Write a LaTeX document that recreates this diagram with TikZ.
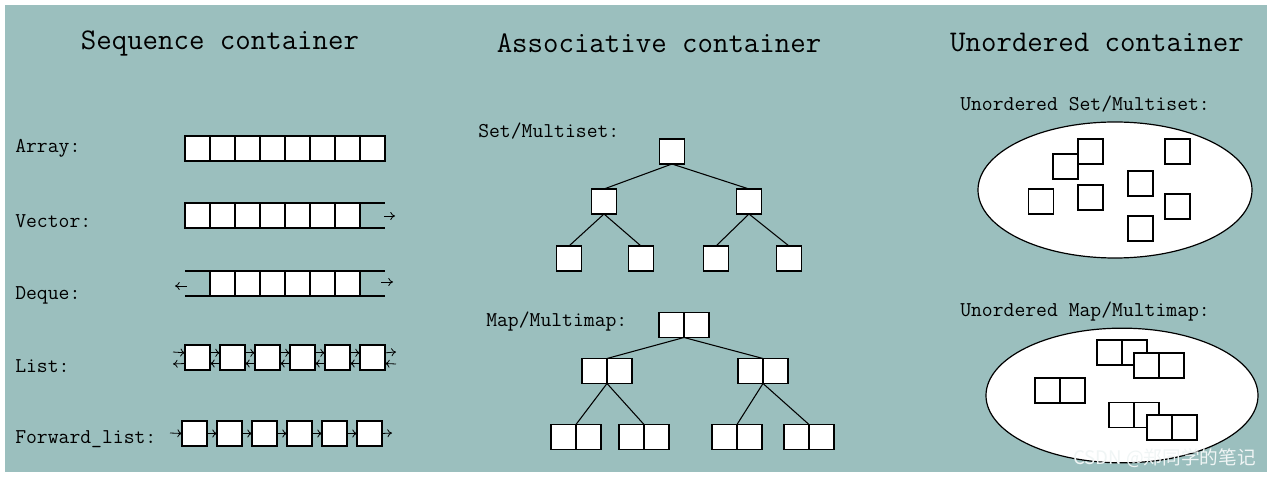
\documentclass[tikz,border=0pt]{standalone}
\usepackage{fontspec}
\newfontfamily\cjk{Noto Sans CJK SC}
\usetikzlibrary{arrows.meta,shapes.geometric}
\definecolor{bg}{HTML}{9BBFBE}
\begin{document}
\begin{tikzpicture}[x=0.75pt,y=-0.75pt,
  box/.style={draw,fill=white,line width=0.9pt,minimum size=18.75pt,inner sep=0pt,outer sep=0pt},
  ttl/.style={font=\ttfamily\fontsize{22.5}{24}\selectfont,anchor=center},
  lbl/.style={font=\ttfamily\fontsize{15.8}{17}\selectfont,anchor=west,inner sep=0pt},
  ln/.style={line width=0.9pt},
  ar/.style={line width=0.6pt,-{To[length=3.5pt,width=6pt]}},
  edge/.style={line width=0.8pt},
  ell/.style={draw,fill=white,line width=0.9pt,ellipse,inner sep=0pt}]
\useasboundingbox (0,0) rectangle (1272,477);
\fill[bg] (5,5) rectangle (1267,472);
% titles
\node[ttl] (t1) at (220,43) {Sequence container};
\node[ttl] (t2) at (659,43) {Associative container};
\node[ttl] (t3) at (1097,43) {Unordered container};
% labels
\node[lbl] (la) at (15,148) {Array:};
\node[lbl] (lv) at (15,221) {Vector:};
\node[lbl] (ld) at (15,295) {Deque:};
\node[lbl] (ll) at (15,366) {List:};
\node[lbl] (lf) at (15,439) {Forward\_list:};
\node[lbl] (ls) at (478,131) {Set/Multiset:};
\node[lbl] (lm) at (486,322) {Map/Multimap:};
\node[lbl] (lus) at (960,104) {Unordered Set/Multiset:};
\node[lbl] (lum) at (960,312) {Unordered Map/Multimap:};
% Array
\foreach \i in {0,...,7} \node[box] (a\i) at (197.5+25*\i,148.5) {};
% Vector
\foreach \i in {0,...,6} \node[box] (v\i) at (197.5+25*\i,215.5) {};
\coordinate (vt) at (385,203); \coordinate (vb) at (385,228);
\draw[ln] (v0.north west) -- (vt); \draw[ln] (v0.south west) -- (vb);
\coordinate (va1) at (384,216); \coordinate (va2) at (395,216);
\draw[ar] (va1) -- (va2);
% Deque
\foreach \i in {0,...,5} \node[box] (d\i) at (222.5+25*\i,283.5) {};
\coordinate (dtl) at (185,271); \coordinate (dtr) at (385,271);
\coordinate (dbl) at (185,296); \coordinate (dbr) at (385,296);
\draw[ln] (dtl) -- (dtr); \draw[ln] (dbl) -- (dbr);
\coordinate (dl1) at (187,286); \coordinate (dl2) at (175,286);
\coordinate (dr1) at (381,282); \coordinate (dr2) at (393,282);
\draw[ar] (dl1) -- (dl2); \draw[ar] (dr1) -- (dr2);
% List
\foreach \i in {0,...,5} \node[box] (l\i) at (197.5+35*\i,357.5) {};
\foreach \i [evaluate=\i as \j using int(\i+1)] in {0,...,4} {
  \draw[ar] ([yshift=3.5pt]l\i.east) -- ([yshift=3.5pt]l\j.west);
  \draw[ar] ([yshift=-4.5pt]l\j.west) -- ([yshift=-4.5pt]l\i.east);
}
\coordinate (lin) at (173,352); \coordinate (lout) at (396,352);
\coordinate (lbin) at (396,364); \coordinate (lbout) at (173,364);
\draw[ar] (lin) -- ([yshift=3.5pt]l0.west);
\draw[ar] ([yshift=3.5pt]l5.east) -- (lout);
\draw[ar] (lbin) -- ([yshift=-4.5pt]l5.east);
\draw[ar] ([yshift=-4.5pt]l0.west) -- (lbout);
% Forward list
\foreach \i in {0,...,5} \node[box] (f\i) at (194.5+35*\i,433.5) {};
\foreach \i [evaluate=\i as \j using int(\i+1)] in {0,...,4}
  \draw[ar] (f\i.east) -- (f\j.west);
\coordinate (fin) at (170,433); \coordinate (fout) at (392,433);
\draw[ar] (fin) -- (f0.west); \draw[ar] (f5.east) -- (fout);
% Set tree
\node[box] (s0) at (672,151.5) {};
\node[box] (s1) at (604,201.5) {};
\node[box] (s2) at (749,201.5) {};
\node[box] (s3) at (569,258.5) {};
\node[box] (s4) at (641,258.5) {};
\node[box] (s5) at (716,258.5) {};
\node[box] (s6) at (789,258.5) {};
\draw[edge] (s0.south) -- (s1.north); \draw[edge] (s0.south) -- (s2.north);
\draw[edge] (s1.south) -- (s3.north); \draw[edge] (s1.south) -- (s4.north);
\draw[edge] (s2.south) -- (s5.north); \draw[edge] (s2.south) -- (s6.north);
% Map tree
\foreach \n/\x/\y in {m0/684/325, m1/607/371, m2/763/371, m3/576/437, m4/644/437, m5/737/437, m6/809/437} {
  \node[box] (\n a) at (\x-12.5,\y) {};
  \node[box] (\n b) at (\x+12.5,\y) {};
  \coordinate (\n n) at (\x,\y-12.5);
  \coordinate (\n s) at (\x,\y+12.5);
}
\draw[edge] (m0s) -- (m1n); \draw[edge] (m0s) -- (m2n);
\draw[edge] (m1s) -- (m3n); \draw[edge] (m1s) -- (m4n);
\draw[edge] (m2s) -- (m5n); \draw[edge] (m2s) -- (m6n);
% Unordered set
\node[ell,minimum width=205.5pt,minimum height=102pt] (e1) at (1115,190) {};
\foreach \n/\x/\y in {u1/1090.5/151.5, u2/1065.5/166.5, u3/1041/201.5, u4/1090.5/197.5, u5/1140.5/183.5, u6/1177.5/151.5, u7/1177.5/206.5, u8/1140.5/228.5}
  \node[box] (\n) at (\x,\y) {};
% Unordered map
\node[ell,minimum width=204pt,minimum height=101pt] (e2) at (1122,395.5) {};
\foreach \n/\x/\y in {p1/1109.5/352.5, p2/1146.5/365.5, p3/1047.5/390.5, p4/1121.5/415, p5/1159.5/427.5} {
  \node[box] (\n a) at (\x,\y) {};
  \node[box] (\n b) at (\x+25,\y) {};
}
% watermark
\node[font=\cjk\fontsize{14}{16}\selectfont,text=white!85!bg,anchor=east,inner sep=0pt] (wm) at (1256,458) {CSDN @郑同学的笔记};
\end{tikzpicture}
\end{document}
